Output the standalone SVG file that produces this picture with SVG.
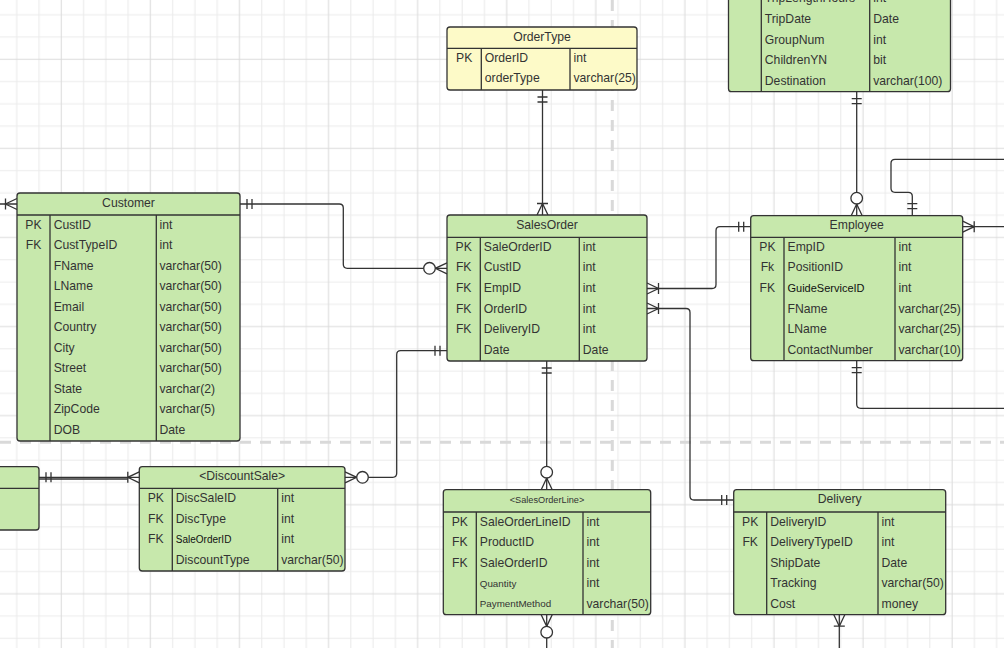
<svg xmlns="http://www.w3.org/2000/svg" width="1004" height="648" viewBox="0 0 1004 648">
<style>
.t{font-family:"Liberation Sans",Arial,sans-serif;font-size:12.2px;fill:#333}
.c{text-anchor:middle}
.blk{fill:#111}
.s11{font-size:11px}
.s10{font-size:10px}
.s98{font-size:9.8px}
.s92{font-size:9.2px}
.box{stroke:#333;stroke-width:1.3}
.g{fill:#c7e8ac}
.y{fill:#fdfac8}
.ln{stroke:#333;stroke-width:1.3;fill:none}
.conn{fill:none;stroke:#333;stroke-width:1.3}
.mk{fill:none;stroke:#333;stroke-width:1.3}
.mc{fill:#fff;stroke:#333;stroke-width:1.3}
.dash{stroke:#d9d9d9;stroke-width:3;stroke-dasharray:11 9;fill:none}
</style>
<defs>
<pattern id="grid" patternUnits="userSpaceOnUse" x="-38.915" y="-40.915" width="89.08" height="89.08">
<rect width="89.08" height="89.08" fill="#fff"/>
<path d="M33.405,0V89.08M55.675,0V89.08M77.945,0V89.08M0,33.405H89.08M0,55.675H89.08M0,77.945H89.08" stroke="#ebebeb" stroke-width="1"/>
<path d="M11.135,0V89.08M0,11.135H89.08" stroke="#dbdbdb" stroke-width="1"/>
</pattern>
<marker id="one" markerUnits="userSpaceOnUse" orient="auto-start-reverse" viewBox="-30 -15 40 30" markerWidth="40" markerHeight="30" refX="0" refY="0" overflow="visible">
<path class="mk" d="M-7,-5V5M-12,-5V5"/>
</marker>
<marker id="onemany" markerUnits="userSpaceOnUse" orient="auto-start-reverse" viewBox="-30 -15 40 30" markerWidth="40" markerHeight="30" refX="0" refY="0" overflow="visible">
<path class="mk" d="M-11.5,-5.5V5.5M0,-5.5L-11.5,0L0,5.5"/>
</marker>
<marker id="zeromany" markerUnits="userSpaceOnUse" orient="auto-start-reverse" viewBox="-30 -15 40 30" markerWidth="40" markerHeight="30" refX="0" refY="0" overflow="visible">
<path class="mk" d="M0,-5.5L-11.7,0L0,5.5"/>
<circle class="mc" cx="-17.5" cy="0" r="5.8"/>
</marker>
</defs>

<rect x="0" y="0" width="1004" height="648" fill="url(#grid)"/>
<g id="guides">
<path class="dash" d="M612.3,0V648"/>
<path class="dash" d="M0,442.3H1004"/>
</g>

<g id="connectors">
<path class="conn" d="M240,204H339.3Q343.3,204 343.3,208V264.3Q343.3,268.3 347.3,268.3H447" marker-start="url(#one)" marker-end="url(#zeromany)"/>
<path class="conn" d="M-20,204H17" marker-end="url(#onemany)"/>
<path class="conn" d="M542.5,90V215" marker-start="url(#one)" marker-end="url(#onemany)"/>
<path class="conn" d="M647,288.5H712Q716,288.5 716,284.5V230.7Q716,226.7 720,226.7H750.7" marker-start="url(#onemany)" marker-end="url(#one)"/>
<path class="conn" d="M647,308.5H686Q690,308.5 690,312.5V496Q690,500 694,500H733.7" marker-start="url(#onemany)" marker-end="url(#one)"/>
<path class="conn" d="M546.7,361V489.7" marker-start="url(#one)" marker-end="url(#zeromany)"/>
<path class="conn" d="M447,350.7H400.7Q396.7,350.7 396.7,354.7V473.3Q396.7,477.3 392.7,477.3H345" marker-start="url(#one)" marker-end="url(#zeromany)"/>
<path class="conn" d="M39,477.3H139.3" marker-start="url(#one)" marker-end="url(#onemany)"/>
<path class="conn" d="M39,479H127.8"/>
<path class="conn" d="M856.7,91.7V215.7" marker-start="url(#one)" marker-end="url(#zeromany)"/>
<path class="conn" d="M912.3,215.7V196.3Q912.3,192.3 908.3,192.3H895Q891,192.3 891,188.3V163.3Q891,159.3 895,159.3H1010" marker-start="url(#one)"/>
<path class="conn" d="M962.7,226.7H1010" marker-start="url(#onemany)"/>
<path class="conn" d="M856.7,360.7V404.3Q856.7,408.3 860.7,408.3H1010" marker-start="url(#one)"/>
<path class="conn" d="M546.7,614.7V660" marker-start="url(#zeromany)"/>
<path class="conn" d="M839.3,614.7V660" marker-start="url(#onemany)"/>
</g>

<g id="Trip">
<rect class="box g" x="728.5" y="-60" width="222" height="151.7" rx="3"/>
<path class="ln" d="M728.5,-20H950.5M761.3,-20V91.7M869.7,-20V91.7"/>
<text class="t" x="764.8" y="1.9">TripLengthHours</text><text class="t" x="873.2" y="1.9">int</text>
<text class="t" x="764.8" y="22.7">TripDate</text><text class="t" x="873.2" y="22.7">Date</text>
<text class="t" x="764.8" y="43.5">GroupNum</text><text class="t" x="873.2" y="43.5">int</text>
<text class="t" x="764.8" y="64.3">ChildrenYN</text><text class="t" x="873.2" y="64.3">bit</text>
<text class="t" x="764.8" y="85">Destination</text><text class="t" x="873.2" y="85">varchar(100)</text>
</g>

<g id="OrderType">
<rect class="box y" x="447" y="27" width="190" height="63" rx="3"/>
<path class="ln" d="M447,48.3H637M481.3,48.3V90M570,48.3V90"/>
<text class="t c" x="542" y="40.5">OrderType</text>
<text class="t c" x="464.2" y="61.8">PK</text><text class="t" x="484.8" y="61.8">OrderID</text><text class="t" x="573.5" y="61.8">int</text>
<text class="t" x="484.8" y="82.3">orderType</text><text class="t" x="573.5" y="82.3">varchar(25)</text>
</g>

<g id="Customer">
<rect class="box g" x="17" y="193" width="223" height="248" rx="3"/>
<path class="ln" d="M17,215H240M50,215V441M156.3,215V441"/>
<text class="t c" x="128.5" y="206.5">Customer</text>
<text class="t c" x="33.5" y="228.5">PK</text><text class="t" x="53.7" y="228.5">CustID</text><text class="t" x="159.5" y="228.5">int</text>
<text class="t c" x="33.5" y="249">FK</text><text class="t" x="53.7" y="249">CustTypeID</text><text class="t" x="159.5" y="249">int</text>
<text class="t" x="53.7" y="269.5">FName</text><text class="t" x="159.5" y="269.5">varchar(50)</text>
<text class="t" x="53.7" y="290">LName</text><text class="t" x="159.5" y="290">varchar(50)</text>
<text class="t" x="53.7" y="310.5">Email</text><text class="t" x="159.5" y="310.5">varchar(50)</text>
<text class="t" x="53.7" y="331">Country</text><text class="t" x="159.5" y="331">varchar(50)</text>
<text class="t" x="53.7" y="351.5">City</text><text class="t" x="159.5" y="351.5">varchar(50)</text>
<text class="t" x="53.7" y="372">Street</text><text class="t" x="159.5" y="372">varchar(50)</text>
<text class="t" x="53.7" y="392.5">State</text><text class="t" x="159.5" y="392.5">varchar(2)</text>
<text class="t" x="53.7" y="413">ZipCode</text><text class="t" x="159.5" y="413">varchar(5)</text>
<text class="t" x="53.7" y="433.5">DOB</text><text class="t" x="159.5" y="433.5">Date</text>
</g>

<g id="SalesOrder">
<rect class="box g" x="447" y="215" width="200" height="146" rx="3"/>
<path class="ln" d="M447,237.3H647M480.3,237.3V361M579.3,237.3V361"/>
<text class="t c" x="547" y="228.5">SalesOrder</text>
<text class="t c" x="463.7" y="250.8">PK</text><text class="t" x="483.8" y="250.8">SaleOrderID</text><text class="t" x="582.8" y="250.8">int</text>
<text class="t c" x="463.7" y="271.4">FK</text><text class="t" x="483.8" y="271.4">CustID</text><text class="t" x="582.8" y="271.4">int</text>
<text class="t c" x="463.7" y="292">FK</text><text class="t" x="483.8" y="292">EmpID</text><text class="t" x="582.8" y="292">int</text>
<text class="t c" x="463.7" y="312.6">FK</text><text class="t" x="483.8" y="312.6">OrderID</text><text class="t" x="582.8" y="312.6">int</text>
<text class="t c" x="463.7" y="333.2">FK</text><text class="t" x="483.8" y="333.2">DeliveryID</text><text class="t" x="582.8" y="333.2">int</text>
<text class="t" x="483.8" y="353.8">Date</text><text class="t" x="582.8" y="353.8">Date</text>
</g>

<g id="Employee">
<rect class="box g" x="750.7" y="215.7" width="212" height="145" rx="3"/>
<path class="ln" d="M750.7,237.3H962.7M784,237.3V360.7M895,237.3V360.7"/>
<text class="t c" x="856.7" y="229.2">Employee</text>
<text class="t c" x="767.4" y="250.8">PK</text><text class="t" x="787.5" y="250.8">EmpID</text><text class="t" x="898.5" y="250.8">int</text>
<text class="t c" x="767.4" y="271.4">Fk</text><text class="t" x="787.5" y="271.4">PositionID</text><text class="t" x="898.5" y="271.4">int</text>
<text class="t c" x="767.4" y="291.9">FK</text><text class="t s11 blk" x="787.5" y="291.9">GuideServiceID</text><text class="t" x="898.5" y="291.9">int</text>
<text class="t" x="787.5" y="312.5">FName</text><text class="t" x="898.5" y="312.5">varchar(25)</text>
<text class="t" x="787.5" y="333.1">LName</text><text class="t" x="898.5" y="333.1">varchar(25)</text>
<text class="t" x="787.5" y="353.6">ContactNumber</text><text class="t" x="898.5" y="353.6">varchar(10)</text>
</g>

<g id="LeftTable">
<rect class="box g" x="-60" y="466.7" width="99" height="63.3" rx="3"/>
<path class="ln" d="M-60,488.3H39"/>
</g>

<g id="DiscountSale">
<rect class="box g" x="139.3" y="466.7" width="205.7" height="104.3" rx="3"/>
<path class="ln" d="M139.3,488.3H345M172.3,488.3V571M277.7,488.3V571"/>
<text class="t c" x="242.2" y="480.2">&lt;DiscountSale&gt;</text>
<text class="t c" x="155.8" y="501.8">PK</text><text class="t" x="175.8" y="501.8">DiscSaleID</text><text class="t" x="281.2" y="501.8">int</text>
<text class="t c" x="155.8" y="522.5">FK</text><text class="t" x="175.8" y="522.5">DiscType</text><text class="t" x="281.2" y="522.5">int</text>
<text class="t c" x="155.8" y="543.2">FK</text><text class="t s10 blk" x="175.8" y="543.2">SaleOrderID</text><text class="t" x="281.2" y="543.2">int</text>
<text class="t" x="175.8" y="563.9">DiscountType</text><text class="t" x="281.2" y="563.9">varchar(50)</text>
</g>

<g id="SalesOrderLine">
<rect class="box g" x="443.3" y="489.7" width="207.4" height="125" rx="3"/>
<path class="ln" d="M443.3,512H650.7M476.3,512V614.7M583,512V614.7"/>
<text class="t c s92" x="547" y="502.5">&lt;SalesOrderLine&gt;</text>
<text class="t c" x="459.8" y="525.5">PK</text><text class="t" x="479.8" y="525.5">SaleOrderLineID</text><text class="t" x="586.5" y="525.5">int</text>
<text class="t c" x="459.8" y="546">FK</text><text class="t" x="479.8" y="546">ProductID</text><text class="t" x="586.5" y="546">int</text>
<text class="t c" x="459.8" y="566.6">FK</text><text class="t" x="479.8" y="566.6">SaleOrderID</text><text class="t" x="586.5" y="566.6">int</text>
<text class="t s98" x="479.8" y="586.5">Quantity</text><text class="t" x="586.5" y="587.1">int</text>
<text class="t s98" x="479.8" y="606.5">PaymentMethod</text><text class="t" x="586.5" y="607.7">varchar(50)</text>
</g>

<g id="Delivery">
<rect class="box g" x="733.7" y="489.7" width="212" height="125" rx="3"/>
<path class="ln" d="M733.7,512H945.7M766.7,512V614.7M878,512V614.7"/>
<text class="t c" x="839.7" y="503.2">Delivery</text>
<text class="t c" x="750.2" y="525.5">PK</text><text class="t" x="770.2" y="525.5">DeliveryID</text><text class="t" x="881.5" y="525.5">int</text>
<text class="t c" x="750.2" y="546">FK</text><text class="t" x="770.2" y="546">DeliveryTypeID</text><text class="t" x="881.5" y="546">int</text>
<text class="t" x="770.2" y="566.6">ShipDate</text><text class="t" x="881.5" y="566.6">Date</text>
<text class="t" x="770.2" y="587.1">Tracking</text><text class="t" x="881.5" y="587.1">varchar(50)</text>
<text class="t" x="770.2" y="607.7">Cost</text><text class="t" x="881.5" y="607.7">money</text>
</g>
</svg>
